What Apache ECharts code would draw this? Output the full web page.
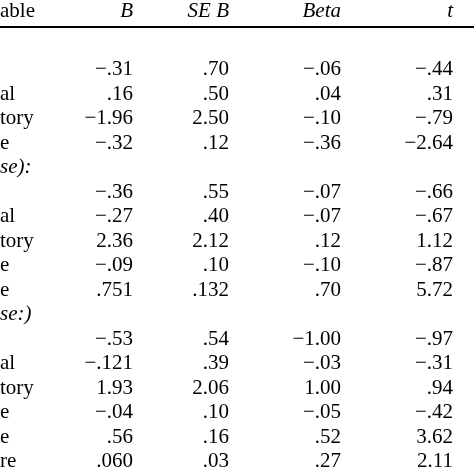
<!DOCTYPE html>
<html>
<head>
<meta charset="utf-8">
<style>html,body{margin:0;padding:0;background:#fff}#chart{width:474px;height:474px}</style>
<script src="https://cdn.jsdelivr.net/npm/echarts@6/dist/echarts.min.js"></script>
</head>
<body>
<div id="chart"></div>
<script>
const headers = ['able', 'B', 'SE B', 'Beta', 't'];
const labels = ['', '', 'al', 'tory', 'e', 'se):', '', 'al', 'tory', 'e', 'e', 'se:)', '', 'al', 'tory', 'e', 'e', 're'];
const colB = ['', '−.31', '.16', '−1.96', '−.32', '', '−.36', '−.27', '2.36', '−.09', '.751', '', '−.53', '−.121', '1.93', '−.04', '.56', '.060'];
const colSE = ['', '.70', '.50', '2.50', '.12', '', '.55', '.40', '2.12', '.10', '.132', '', '.54', '.39', '2.06', '.10', '.16', '.03'];
const colBeta = ['', '−.06', '.04', '−.10', '−.36', '', '−.07', '−.07', '.12', '−.10', '.70', '', '−1.00', '−.03', '1.00', '−.05', '.52', '.27'];
const colT = ['', '−.44', '.31', '−.79', '−2.64', '', '−.66', '−.67', '1.12', '−.87', '5.72', '', '−.97', '−.31', '.94', '−.42', '3.62', '2.11'];
const italicRows = [5, 11];

const font = '"Liberation Serif", "DejaVu Serif", serif';
const colRight = [null, 133, 229, 341, 453];
const y0 = 45, pitch = 24.5, fs = 21;
const cols = [labels, colB, colSE, colBeta, colT];

const elements = [];
headers.forEach((h, c) => {
  elements.push({
    type: 'text', x: c === 0 ? 0 : colRight[c], y: 11,
    style: { text: h, font: (c === 0 ? '' : 'italic ') + fs + 'px ' + font, fill: '#000',
      align: c === 0 ? 'left' : 'right', verticalAlign: 'middle' }
  });
});
elements.push({ type: 'line', shape: { x1: 0, y1: 27, x2: 474, y2: 27 }, style: { stroke: '#000', lineWidth: 2 } });
cols.forEach((arr, c) => {
  arr.forEach((v, r) => {
    if (!v) return;
    const it = c === 0 && italicRows.includes(r);
    elements.push({
      type: 'text', x: c === 0 ? 0 : colRight[c], y: y0 + r * pitch,
      style: { text: v, font: (it ? 'italic ' : '') + fs + 'px ' + font, fill: '#000',
        align: c === 0 ? 'left' : 'right', verticalAlign: 'middle' }
    });
  });
});

const chart = echarts.init(document.getElementById('chart'));
chart.setOption({ backgroundColor: '#fff', animation: false, graphic: { elements } });
</script>
</body>
</html>
